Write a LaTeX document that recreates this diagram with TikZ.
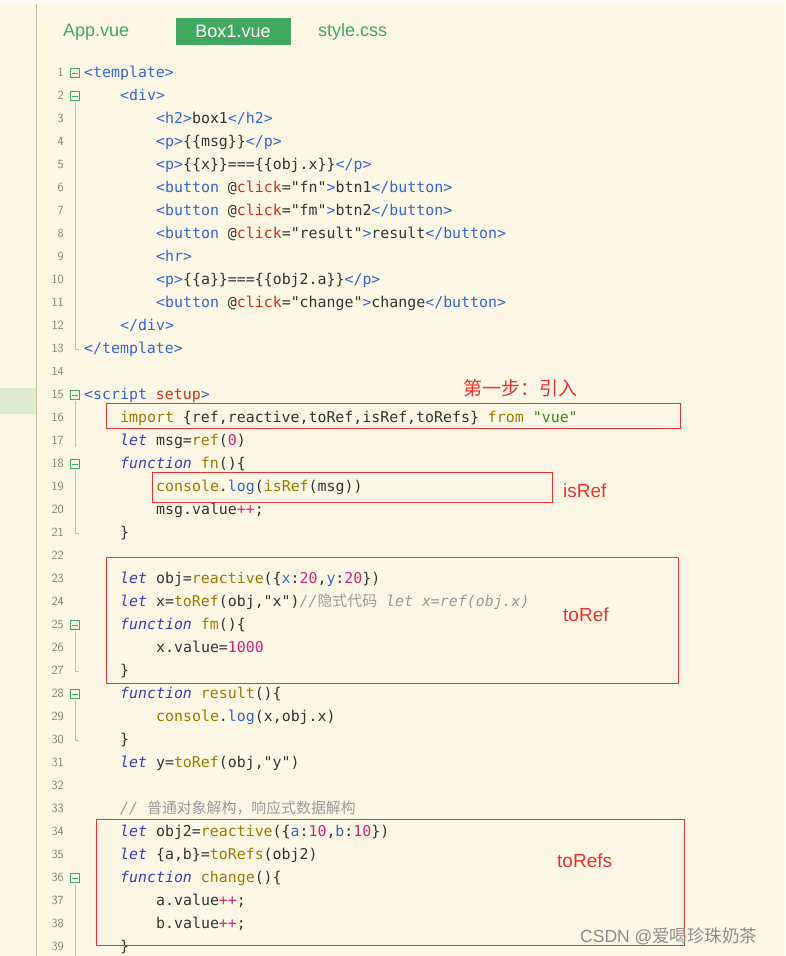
\documentclass[tikz,border=0pt]{standalone}
\usepackage{fontspec}
\setmainfont{Liberation Sans}
\setmonofont{DejaVu Sans Mono}
\newfontfamily\cjk{Noto Sans CJK SC}
\definecolor{bg}{HTML}{FDF8E6}
\definecolor{hl}{HTML}{DDECD0}
\definecolor{tagc}{HTML}{3467D0}
\definecolor{kwc}{HTML}{3D3DB8}
\definecolor{fnc}{HTML}{9A7A00}
\definecolor{numc}{HTML}{D0257A}
\definecolor{strc}{HTML}{3B8A1E}
\definecolor{attc}{HTML}{D0301A}
\definecolor{cmc}{HTML}{9A9A9A}
\definecolor{txt}{HTML}{333333}
\definecolor{lnc}{HTML}{8A8070}
\definecolor{tabg}{HTML}{41A862}
\definecolor{redc}{HTML}{F03030}
\definecolor{gut}{HTML}{D2C3A0}
\newcommand\Tg[1]{\textcolor{tagc}{#1}}
\newcommand\Kw[1]{\textcolor{kwc}{\itshape #1}}
\newcommand\Fn[1]{\textcolor{fnc}{#1}}
\newcommand\Nm[1]{\textcolor{numc}{#1}}
\newcommand\St[1]{\textcolor{strc}{#1}}
\newcommand\At[1]{\textcolor{attc}{#1}}
\newcommand\Cm[1]{\textcolor{cmc}{\itshape #1}}
\tikzset{code/.style={anchor=west,inner sep=0,text height=11pt,text depth=3pt,font=\ttfamily\fontsize{14.9}{16}\selectfont,text=txt},
lnum/.style={anchor=east,inner sep=0,text height=9pt,text depth=2pt,font=\sffamily\fontsize{12.5}{13}\selectfont,text=lnc},
redbox/.style={draw=redc,line width=1pt},
redlab/.style={text=redc,font=\fontsize{19}{20}\selectfont,anchor=west,inner sep=0},
fold/.style={draw=tabg,line width=0.7pt,minimum size=9.5pt,inner sep=0},
tab/.style={font=\fontsize{18}{19}\selectfont,inner sep=0}}
\newcommand\CL[3]{\node[code] (l#1) at (#2,{73+23*(#1-1)}) {#3};}
\begin{document}
\begin{tikzpicture}[x=1pt,y=-1pt]
\useasboundingbox (0,0) rectangle (785,956);
\clip (0,0) rectangle (785,956);
\fill[bg] (0,0) rectangle (785,956);
\fill[white!60!bg] (0,0) rectangle (785,4);
\fill[hl] (0,388) rectangle (36,414);
\draw[gut,line width=1pt] (36,4) -- (36,956);
% tabs
\node[tab,text=tabg,anchor=west] (t1) at (63,32) {App.vue};
\node[tab,fill=tabg,text=white,minimum width=115pt,minimum height=27pt] (t2) at (233,31.5) {Box1.vue};
\node[tab,text=tabg,anchor=west] (t3) at (318,32) {style.css};
% line numbers
\foreach \i in {1,...,39} \node[lnum] (n\i) at (64,{73+23*(\i-1)}) {\i};
% fold markers
\foreach \i in {1,2,15,18,25,28,36} {
 \node[fold] (f\i) at (75,{73+23*(\i-1)}) {};
 \draw[tabg,line width=0.7pt] (72,{73+23*(\i-1)}) -- (78,{73+23*(\i-1)});}
\draw[lnc!50,line width=0.6pt] (75,{73+23+6}) -- (75,{73+23*12}) -- (79,{73+23*12});
\draw[lnc!50,line width=0.6pt] (75,{73+23*14+6}) -- (75,{73+23*16+6});
\draw[lnc!50,line width=0.6pt] (75,{73+23*17+6}) -- (75,{73+23*20}) -- (79,{73+23*20});
\draw[lnc!50,line width=0.6pt] (75,{73+23*24+6}) -- (75,{73+23*26}) -- (79,{73+23*26});
\draw[lnc!50,line width=0.6pt] (75,{73+23*27+6}) -- (75,{73+23*29}) -- (79,{73+23*29});
\draw[lnc!50,line width=0.6pt] (75,{73+23*35+6}) -- (75,956);
% code
\CL{1}{84}{\Tg{<template>}}
\CL{2}{120}{\Tg{<div>}}
\CL{3}{156}{\Tg{<h2>}box1\Tg{</h2>}}
\CL{4}{156}{\Tg{<p>}\{\{msg\}\}\Tg{</p>}}
\CL{5}{156}{\Tg{<p>}\{\{x\}\}===\{\{obj.x\}\}\Tg{</p>}}
\CL{6}{156}{\Tg{<button} @\At{click}="fn"\Tg{>}btn1\Tg{</button>}}
\CL{7}{156}{\Tg{<button} @\At{click}="fm"\Tg{>}btn2\Tg{</button>}}
\CL{8}{156}{\Tg{<button} @\At{click}="result"\Tg{>}result\Tg{</button>}}
\CL{9}{156}{\Tg{<hr>}}
\CL{10}{156}{\Tg{<p>}\{\{a\}\}===\{\{obj2.a\}\}\Tg{</p>}}
\CL{11}{156}{\Tg{<button} @\At{click}="change"\Tg{>}change\Tg{</button>}}
\CL{12}{120}{\Tg{</div>}}
\CL{13}{84}{\Tg{</template>}}
\CL{15}{84}{\Tg{<script} \At{setup}\Tg{>}}
\CL{16}{120}{\Fn{import} \{ref,reactive,toRef,isRef,toRefs\} \Fn{from} \St{"vue"}}
\CL{17}{120}{\Kw{let} msg=\Fn{ref}(\Nm{0})}
\CL{18}{120}{\Kw{function} \Fn{fn}()\{}
\CL{19}{156}{\Fn{console}.\Tg{log}(\Fn{isRef}(msg))}
\CL{20}{156}{msg.value\Nm{++};}
\CL{21}{120}{\}}
\CL{23}{120}{\Kw{let} obj=\Fn{reactive}(\{\Tg{x}:\Nm{20},\Tg{y}:\Nm{20}\})}
\CL{24}{120}{\Kw{let} x=\Fn{toRef}(obj,"x")\Cm{//{\cjk 隐式代码} let x=ref(obj.x)}}
\CL{25}{120}{\Kw{function} \Fn{fm}()\{}
\CL{26}{156}{x.value=\Nm{1000}}
\CL{27}{120}{\}}
\CL{28}{120}{\Kw{function} \Fn{result}()\{}
\CL{29}{156}{\Fn{console}.\Tg{log}(x,obj.x)}
\CL{30}{120}{\}}
\CL{31}{120}{\Kw{let} y=\Fn{toRef}(obj,"y")}
\CL{33}{120}{\Cm{// {\cjk 普通对象解构，响应式数据解构}}}
\CL{34}{120}{\Kw{let} obj2=\Fn{reactive}(\{\Tg{a}:\Nm{10},\Tg{b}:\Nm{10}\})}
\CL{35}{120}{\Kw{let} \{a,b\}=\Fn{toRefs}(obj2)}
\CL{36}{120}{\Kw{function} \Fn{change}()\{}
\CL{37}{156}{a.value\Nm{++};}
\CL{38}{156}{b.value\Nm{++};}
\CL{39}{120}{\}}
% annotations
\draw[redbox] (106,403) rectangle (680,428);
\draw[redbox] (152,472) rectangle (552,502);
\draw[redbox] (106,557) rectangle (678,683);
\draw[redbox] (96,819) rectangle (684,945);
\node[redlab] (a1) at (463,388) {\cjk 第一步：引入};
\node[redlab] (a2) at (563,491) {isRef};
\node[redlab] (a3) at (563,615) {toRef};
\node[redlab] (a4) at (557,861) {toRefs};
\node[anchor=west,inner sep=0,text=white!55!black,font=\fontsize{17.5}{18}\selectfont] (wm) at (580,936) {CSDN @{\cjk 爱喝珍珠奶茶}};
\end{tikzpicture}
\end{document}
